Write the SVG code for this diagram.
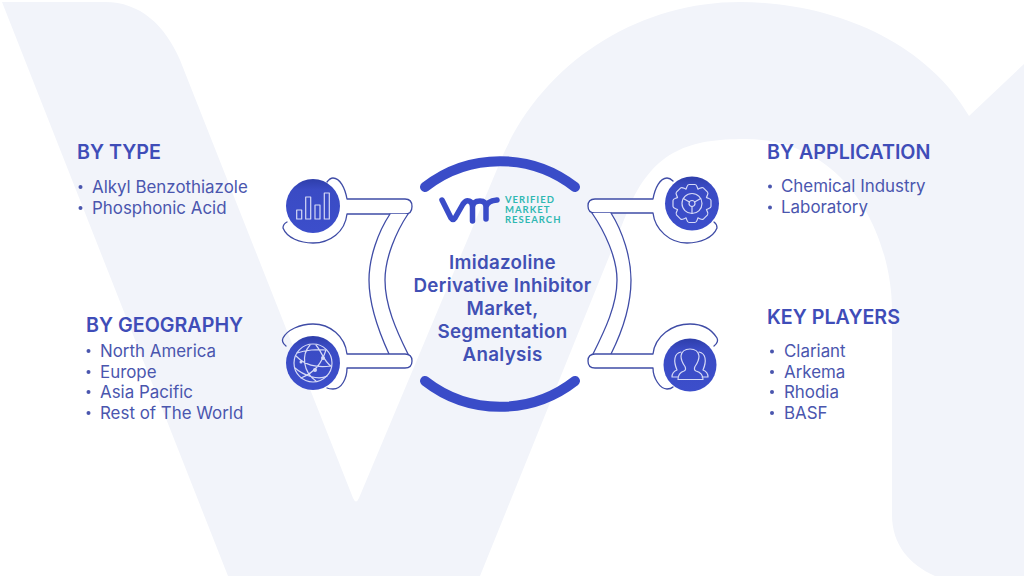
<svg xmlns="http://www.w3.org/2000/svg" width="1024" height="576" viewBox="0 0 1024 576">
<style>
.hd{font-family:Inter,"Liberation Sans",sans-serif;font-weight:600;font-size:19.700px;fill:#3f4db8}
.it{font-family:Inter,"Liberation Sans",sans-serif;font-weight:400;font-size:16.900px;fill:#4a56ae}
.tt{font-family:Inter,"Liberation Sans",sans-serif;font-weight:600;font-size:18.800px;letter-spacing:.3px;fill:#4150b4;text-anchor:middle}
.lg{font-family:Lato,"Liberation Sans",sans-serif;font-weight:700;font-size:9.500px;letter-spacing:1px;fill:#2fb8b2}
.fillw{fill:#fff}
.open{fill:none;stroke:#3f4ca6;stroke-width:1.300;stroke-linecap:round;stroke-linejoin:round}
.ic{fill:none;stroke:#d5d9f6;stroke-width:1.200;stroke-linejoin:round;stroke-linecap:round}
.arc{fill:none;stroke:#3a4cc8;stroke-width:10;stroke-linecap:round}
.bl{fill:#4a56ae}
</style>
<defs>
<linearGradient id="disc" x1="0" y1="0" x2="0" y2="1"><stop offset="0" stop-color="#2e3eaa"/><stop offset=".2" stop-color="#3a4bc4"/><stop offset="1" stop-color="#3c4ecb"/></linearGradient>
<path id="tooth" class="ic" d="M-6 -14.500C-5 -16 -5 -19 -3 -19H3C5 -19 5 -16 6 -14.500"/>
</defs>
<rect width="1024" height="576" fill="#fff"/>
<g id="watermark" fill="#f2f4fa">
<path d="M2 2H105C140 2 165 25 180 60L353 498Q356 505 359 498L503 155C545 60 640 2 740 2C830 2 925 40 969 116L1024 64V576H935C910 565 892 545 892 515V310C892 240 850 139 745 139C690 139 655 150 630 205L480 576H228Z"/>
</g>
<g id="connectors">
<path class="fillw" d="M347 199H405Q412 199 412 206.500Q412 214 405 214H347Z"/>
<path class="open" d="M327 182Q330 178 333 178C340 178 345 188 347 199H405Q412 199 412 206.500Q412 214 405 214H347C345 232 330 243 313 243C300 243 287 238 283 228Q283 224 287 222"/>
<path class="fillw" d="M390 214C378 232 369 258 369 280C369 305 378 330 389 354H408C396 330 385 305 385 280C385 258 396 232 408 214Z"/>
<path class="open" d="M390 214C378 232 369 258 369 280C369 305 378 330 389 354M408 214C396 232 385 258 385 280C385 305 396 330 408 354"/>
<path class="fillw" d="M347 354H405Q412 354 412 361Q412 368 405 368H347Z"/>
<path class="open" d="M286 346Q281 342 283 338C287 330 300 324 313 324C330 324 345 336 347 354H405Q412 354 412 361Q412 368 405 368H347C347 378 342 389 333 389Q329 389 327 388"/>
<path class="fillw" d="M653 199H595Q588 199 588 206Q588 213 595 213H653Z"/>
<path class="open" d="M673 181Q670 178 667 178C660 178 655 188 653 199H595Q588 199 588 206Q588 213 595 213H653C655 230 670 243 687 243C700 243 713 238 717 228Q717 224 714 222"/>
<path class="fillw" d="M592 213C605 232 617 258 617 280C617 305 605 330 593 354H611C623 330 631 305 631 280C631 258 623 232 611 213Z"/>
<path class="open" d="M592 213C605 232 617 258 617 280C617 305 605 330 593 354M611 213C623 232 631 258 631 280C631 305 623 330 611 354"/>
<path class="fillw" d="M653 354H595Q588 354 588 361Q588 368 595 368H653Z"/>
<path class="open" d="M714 346Q719 342 717 338C712 330 703 324 690 324C672 324 655 336 653 354H595Q588 354 588 361Q588 368 595 368H653C653 378 660 389 667 389Q671 389 673 387"/>
</g>
<g id="center-ring">
<path class="arc" d="M425 187A122 122 0 0 1 575 187"/>
<path class="arc" d="M425 381A122 122 0 0 0 575 381"/>
</g>
<g id="logo">
<path d="M442 200L451 218Q453 221 455 218L463 204Q466 200 469 201Q472.500 202 472.500 207V221M472.500 207Q473 201 480 201Q486 201 486 207V219M486 207Q487 201 497 200" fill="none" stroke="#3a4cc8" stroke-width="5.500" stroke-linecap="round" stroke-linejoin="round"/>
<text class="lg" x="505" y="203">VERIFIED</text>
<text class="lg" x="505" y="213">MARKET</text>
<text class="lg" x="505" y="223">RESEARCH</text>
</g>
<g id="title">
<text class="tt" x="502.500" y="268.500">Imidazoline</text>
<text class="tt" x="502.500" y="292">Derivative Inhibitor</text>
<text class="tt" x="502.500" y="315">Market,</text>
<text class="tt" x="502.500" y="338">Segmentation</text>
<text class="tt" x="502.500" y="361">Analysis</text>
</g>
<g id="node-type">
<circle cx="313" cy="206" r="27" fill="url(#disc)"/>
<rect class="ic" x="296.700" y="210" width="5" height="9"/>
<rect class="ic" x="305.700" y="197" width="5" height="22"/>
<rect class="ic" x="315" y="205" width="5" height="14"/>
<rect class="ic" x="324.300" y="193" width="5" height="26"/>
<text class="hd" x="77" y="159">BY TYPE</text>
<circle class="bl" cx="80.500" cy="187" r="2"/><text class="it" x="92" y="192.500">Alkyl Benzothiazole</text>
<circle class="bl" cx="80.500" cy="208" r="2"/><text class="it" x="92" y="213.500">Phosphonic Acid</text>
</g>
<g id="node-geography">
<circle cx="313" cy="363" r="27" fill="url(#disc)"/>
<circle class="ic" cx="313" cy="363" r="19"/>
<path class="ic" d="M297 353C305 350 318 349 326 350M295 368C303 375 318 381 327 376M310 345C301 355 303 372 316 381M316 345C322 352 324 362 331 366M326 350C322 362 316 372 301 378M296 356C305 365 315 368 331 366"/>
<circle cx="323" cy="358" r="2" fill="#d5d9f6"/><circle cx="315" cy="370" r="2" fill="#d5d9f6"/><circle cx="301" cy="362" r="1.500" fill="#d5d9f6"/>
<text class="hd" x="86" y="332">BY GEOGRAPHY</text>
<circle class="bl" cx="88.500" cy="351" r="2"/><text class="it" x="100" y="356.500">North America</text>
<circle class="bl" cx="88.500" cy="372" r="2"/><text class="it" x="100" y="377.500">Europe</text>
<circle class="bl" cx="88.500" cy="392" r="2"/><text class="it" x="100" y="397.500">Asia Pacific</text>
<circle class="bl" cx="88.500" cy="413" r="2"/><text class="it" x="100" y="418.500">Rest of The World</text>
</g>
<g id="node-application">
<circle cx="692" cy="203.500" r="27" fill="url(#disc)"/>
<g transform="translate(692 203.500)">
<use href="#tooth"/><use href="#tooth" transform="rotate(45)"/><use href="#tooth" transform="rotate(90)"/><use href="#tooth" transform="rotate(135)"/><use href="#tooth" transform="rotate(180)"/><use href="#tooth" transform="rotate(225)"/><use href="#tooth" transform="rotate(270)"/><use href="#tooth" transform="rotate(315)"/>
<circle class="ic" r="10"/><circle class="ic" r="3"/>
<path class="ic" d="M-2.600 -1.500L-8.700 -5M2.600 -1.500L8.700 -5M0 3V10"/>
</g>
<text class="hd" x="767" y="159">BY APPLICATION</text>
<circle class="bl" cx="770" cy="186.500" r="2"/><text class="it" x="781" y="192">Chemical Industry</text>
<circle class="bl" cx="770" cy="207.500" r="2"/><text class="it" x="781" y="213">Laboratory</text>
</g>
<g id="node-players">
<circle cx="690" cy="365" r="26.500" fill="url(#disc)"/>
<path class="ic" d="M678 379.500Q678 373 684 371Q686.500 370 685 366.500Q681 361 681 356Q682 349 690 349Q698 349 699 356Q699 361 695 366.500Q693.500 370 696 371Q703 373 703 379.500Z"/>
<path class="ic" d="M678 377H672Q672 372 677 370Q674 363 675 358Q676 353 681 352M702 377H708Q708 372 703 370Q706 363 705 358Q704 353 699 352"/>
<text class="hd" x="767" y="324">KEY PLAYERS</text>
<circle class="bl" cx="772" cy="351.500" r="2"/><text class="it" x="784" y="357">Clariant</text>
<circle class="bl" cx="772" cy="372" r="2"/><text class="it" x="784" y="377.500">Arkema</text>
<circle class="bl" cx="772" cy="392" r="2"/><text class="it" x="784" y="397.500">Rhodia</text>
<circle class="bl" cx="772" cy="413" r="2"/><text class="it" x="784" y="418.500">BASF</text>
</g>
</svg>
